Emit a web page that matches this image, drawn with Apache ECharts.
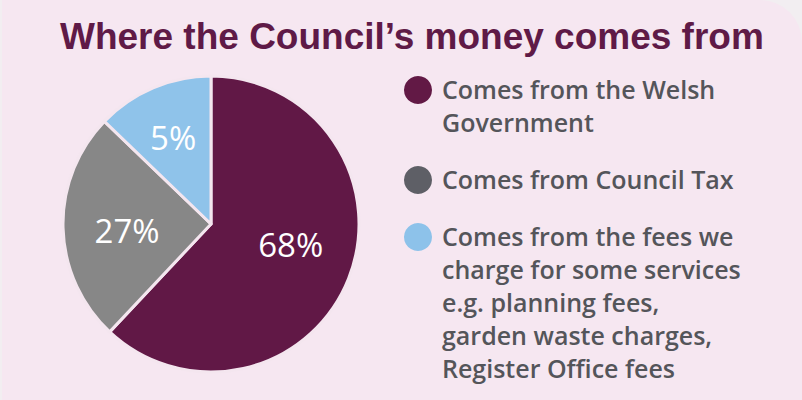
<!DOCTYPE html>
<html>
<head>
<meta charset="utf-8">
<script src="https://cdn.jsdelivr.net/npm/echarts@6/dist/echarts.min.js"></script>
<style>
  html, body {
    margin: 0;
    padding: 0;
    background: #f2eef1;
  }
  .panel {
    position: absolute;
    left: 2px;
    top: 0;
    width: 800px;
    height: 400px;
    background: #f6e7f1;
    border-top-right-radius: 42px;
  }
  #chart {
    position: absolute;
    left: -2px;
    top: 0;
    width: 802px;
    height: 400px;
  }
</style>
</head>
<body>
<div class="panel"><div id="chart"></div></div>
<script>
// Data
const sources = [
  'Comes from the Welsh\nGovernment',
  'Comes from Council Tax',
  'Comes from the fees we\ncharge for some services\ne.g. planning fees,\ngarden waste charges,\nRegister Office fees'
];
// slice sizes as drawn (angles measured on the picture)
const sliceShares = [62.0, 25.2, 12.8];
// percentages printed on the slices
const sliceLabels = ['68%', '27%', '5%'];

const sliceColors = ['#611846', '#878787', '#8fc3ea'];
const dotColors = ['#621945', '#5e5f66', '#8dc2ea'];
// small nudges so the labels sit where the original put them
const labelNudge = [[-3, -12], [5, 4], [-3, -5]];

const pieData = sources.map((name, i) => ({
  name: name,
  value: sliceShares[i],
  itemStyle: { color: sliceColors[i] }
}));

// legend built as graphic: dot beside the first line of each entry
const lineH = 33;
const legendItems = [];
let linesBefore = 0;
sources.forEach((name, i) => {
  const y = 89 + linesBefore * lineH + i * 24;
  legendItems.push({
    type: 'circle',
    shape: { cx: 418, cy: y + 1, r: 14 },
    style: { fill: dotColors[i] }
  });
  legendItems.push({
    type: 'text',
    x: 442,
    y: y - lineH / 2,
    style: {
      text: name,
      fill: '#54555a',
      fontFamily: 'Open Sans',
      fontWeight: 600,
      fontSize: 25,
      lineHeight: lineH,
      verticalAlign: 'top'
    }
  });
  linesBefore += name.split('\n').length;
});

const chart = echarts.init(document.getElementById('chart'), null, { renderer: 'svg' });

chart.setOption({
  backgroundColor: 'transparent',
  animation: false,
  title: {
    text: 'Where the Council\u2019s money comes from',
    left: 60,
    top: 18,
    padding: 0,
    textStyle: {
      color: '#5f1a47',
      fontFamily: 'Liberation Sans',
      fontWeight: 'bold',
      fontSize: 37
    }
  },
  graphic: legendItems,
  series: [
    {
      type: 'pie',
      center: [211, 224],
      radius: 148,
      startAngle: 90,
      clockwise: true,
      silent: true,
      label: { show: false },
      labelLine: { show: false },
      itemStyle: { borderColor: '#f4e6ef', borderWidth: 3 },
      data: pieData
    },
    {
      // transparent twin, only used to place the slice labels
      type: 'pie',
      center: [211, 224],
      radius: 172,
      startAngle: 90,
      clockwise: true,
      silent: true,
      itemStyle: { color: 'rgba(0,0,0,0)', borderWidth: 0 },
      label: {
        show: true,
        position: 'inside',
        color: '#ffffff',
        fontFamily: 'Open Sans',
        fontSize: 33,
        formatter: p => sliceLabels[p.dataIndex]
      },
      labelLine: { show: false },
      data: sliceShares.map((v, i) => ({
        name: sources[i],
        value: v,
        label: { offset: labelNudge[i] }
      }))
    }
  ]
});
</script>
</body>
</html>
